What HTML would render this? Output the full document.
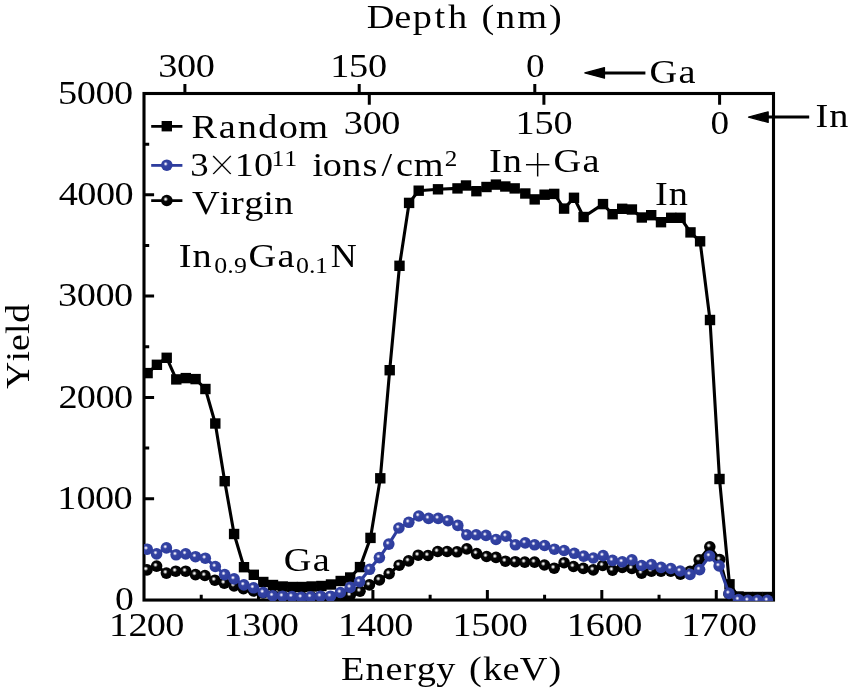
<!DOCTYPE html>
<html><head><meta charset="utf-8"><title>RBS spectra</title>
<style>
html,body{margin:0;padding:0;background:#fff;}
svg{display:block;}
text{font-family:"Liberation Serif", serif;fill:#000;}
</style></head><body>
<svg width="850" height="689" viewBox="0 0 850 689">
<defs>
<radialGradient id="gb" cx="0.40" cy="0.39" r="0.5" fx="0.40" fy="0.39">
<stop offset="0" stop-color="#ffffff"/><stop offset="0.08" stop-color="#f0effb"/><stop offset="0.22" stop-color="#9297d0"/><stop offset="0.37" stop-color="#3443a2"/><stop offset="1" stop-color="#2e3d9e"/>
</radialGradient>
<radialGradient id="gk" cx="0.40" cy="0.39" r="0.5" fx="0.40" fy="0.39">
<stop offset="0" stop-color="#ffffff"/><stop offset="0.10" stop-color="#ececec"/><stop offset="0.25" stop-color="#7c7c7c"/><stop offset="0.41" stop-color="#060606"/><stop offset="1" stop-color="#000000"/>
</radialGradient>
<clipPath id="cp"><rect x="144.0" y="93.5" width="629.7" height="507.4"/></clipPath>
</defs>
<rect width="850" height="689" fill="#fff"/>

<g stroke="#000" stroke-width="3.1" fill="none">
<rect x="144.0" y="93.5" width="629.5" height="506.54999999999995"/>
</g>
<path d="M201.23,600.05v-5.2 M258.45,600.05v-10.0 M315.68,600.05v-5.2 M372.91,600.05v-10.0 M430.14,600.05v-5.2 M487.36,600.05v-10.0 M544.59,600.05v-5.2 M601.82,600.05v-10.0 M659.05,600.05v-5.2 M716.27,600.05v-10.0 M773.50,600.05v-5.2 M144.0,549.39h5.2 M144.0,498.74h10.1 M144.0,448.08h5.2 M144.0,397.43h10.1 M144.0,346.77h5.2 M144.0,296.12h10.1 M144.0,245.46h5.2 M144.0,194.81h10.1 M144.0,144.15h5.2 M184.9,93.5v-9.6 M359.2,93.5v-9.6 M534.8,93.5v-9.6 M369.3,93.5v11.3 M543.9,93.5v11.3 M719.6,93.5v11.3" stroke="#000" stroke-width="3.0" fill="none"/>
<g clip-path="url(#cp)">
<polyline points="147.6,373.1 156.9,364.8 166.7,357.8 176.3,379.4 185.8,378.1 195.6,379.1 205.4,389.0 215.3,423.5 224.7,481.2 234.1,534.0 244.0,567.2 253.8,574.8 263.3,582.0 273.0,585.0 282.7,586.5 292.4,587.0 302.0,587.0 311.7,586.5 321.4,586.0 331.0,584.5 340.7,581.0 350.2,577.5 360.0,567.1 370.5,537.9 380.3,478.3 389.7,370.2 399.5,265.8 409.1,202.9 418.7,190.7 438.0,189.3 457.5,188.4 466.0,185.5 476.4,191.2 486.5,187.0 495.9,184.6 505.3,186.5 514.7,188.4 525.3,193.5 534.7,199.4 544.6,194.7 554.2,193.9 564.1,208.6 574.0,197.8 583.6,217.0 603.0,204.1 612.6,214.2 622.2,208.8 631.9,209.5 641.8,217.5 651.2,215.2 661.0,222.2 671.2,217.8 680.6,217.8 690.5,232.4 700.1,241.3 710.0,320.0 719.5,479.0 729.5,584.3 738.5,596.5 748.0,597.0 757.5,597.0 767.4,597.0" fill="none" stroke="#000" stroke-width="3.1" stroke-linejoin="round"/>
<rect x="142.4" y="367.9" width="10.4" height="10.4" fill="#000"/>
<rect x="151.7" y="359.6" width="10.4" height="10.4" fill="#000"/>
<rect x="161.5" y="352.6" width="10.4" height="10.4" fill="#000"/>
<rect x="171.1" y="374.2" width="10.4" height="10.4" fill="#000"/>
<rect x="180.6" y="372.9" width="10.4" height="10.4" fill="#000"/>
<rect x="190.4" y="373.9" width="10.4" height="10.4" fill="#000"/>
<rect x="200.2" y="383.8" width="10.4" height="10.4" fill="#000"/>
<rect x="210.1" y="418.3" width="10.4" height="10.4" fill="#000"/>
<rect x="219.5" y="476.0" width="10.4" height="10.4" fill="#000"/>
<rect x="228.9" y="528.8" width="10.4" height="10.4" fill="#000"/>
<rect x="238.8" y="562.0" width="10.4" height="10.4" fill="#000"/>
<rect x="248.6" y="569.6" width="10.4" height="10.4" fill="#000"/>
<rect x="258.1" y="576.8" width="10.4" height="10.4" fill="#000"/>
<rect x="267.8" y="579.8" width="10.4" height="10.4" fill="#000"/>
<rect x="277.5" y="581.3" width="10.4" height="10.4" fill="#000"/>
<rect x="287.2" y="581.8" width="10.4" height="10.4" fill="#000"/>
<rect x="296.8" y="581.8" width="10.4" height="10.4" fill="#000"/>
<rect x="306.5" y="581.3" width="10.4" height="10.4" fill="#000"/>
<rect x="316.2" y="580.8" width="10.4" height="10.4" fill="#000"/>
<rect x="325.8" y="579.3" width="10.4" height="10.4" fill="#000"/>
<rect x="335.5" y="575.8" width="10.4" height="10.4" fill="#000"/>
<rect x="345.0" y="572.3" width="10.4" height="10.4" fill="#000"/>
<rect x="354.8" y="561.9" width="10.4" height="10.4" fill="#000"/>
<rect x="365.3" y="532.7" width="10.4" height="10.4" fill="#000"/>
<rect x="375.1" y="473.1" width="10.4" height="10.4" fill="#000"/>
<rect x="384.5" y="365.0" width="10.4" height="10.4" fill="#000"/>
<rect x="394.3" y="260.6" width="10.4" height="10.4" fill="#000"/>
<rect x="403.9" y="197.7" width="10.4" height="10.4" fill="#000"/>
<rect x="413.5" y="185.5" width="10.4" height="10.4" fill="#000"/>
<rect x="432.8" y="184.1" width="10.4" height="10.4" fill="#000"/>
<rect x="452.3" y="183.2" width="10.4" height="10.4" fill="#000"/>
<rect x="460.8" y="180.3" width="10.4" height="10.4" fill="#000"/>
<rect x="471.2" y="186.0" width="10.4" height="10.4" fill="#000"/>
<rect x="481.3" y="181.8" width="10.4" height="10.4" fill="#000"/>
<rect x="490.7" y="179.4" width="10.4" height="10.4" fill="#000"/>
<rect x="500.1" y="181.3" width="10.4" height="10.4" fill="#000"/>
<rect x="509.5" y="183.2" width="10.4" height="10.4" fill="#000"/>
<rect x="520.1" y="188.3" width="10.4" height="10.4" fill="#000"/>
<rect x="529.5" y="194.2" width="10.4" height="10.4" fill="#000"/>
<rect x="539.4" y="189.5" width="10.4" height="10.4" fill="#000"/>
<rect x="549.0" y="188.7" width="10.4" height="10.4" fill="#000"/>
<rect x="558.9" y="203.4" width="10.4" height="10.4" fill="#000"/>
<rect x="568.8" y="192.6" width="10.4" height="10.4" fill="#000"/>
<rect x="578.4" y="211.8" width="10.4" height="10.4" fill="#000"/>
<rect x="597.8" y="198.9" width="10.4" height="10.4" fill="#000"/>
<rect x="607.4" y="209.0" width="10.4" height="10.4" fill="#000"/>
<rect x="617.0" y="203.6" width="10.4" height="10.4" fill="#000"/>
<rect x="626.7" y="204.3" width="10.4" height="10.4" fill="#000"/>
<rect x="636.6" y="212.3" width="10.4" height="10.4" fill="#000"/>
<rect x="646.0" y="210.0" width="10.4" height="10.4" fill="#000"/>
<rect x="655.8" y="217.0" width="10.4" height="10.4" fill="#000"/>
<rect x="666.0" y="212.6" width="10.4" height="10.4" fill="#000"/>
<rect x="675.4" y="212.6" width="10.4" height="10.4" fill="#000"/>
<rect x="685.3" y="227.2" width="10.4" height="10.4" fill="#000"/>
<rect x="694.9" y="236.1" width="10.4" height="10.4" fill="#000"/>
<rect x="704.8" y="314.8" width="10.4" height="10.4" fill="#000"/>
<rect x="714.3" y="473.8" width="10.4" height="10.4" fill="#000"/>
<rect x="724.3" y="579.1" width="10.4" height="10.4" fill="#000"/>
<rect x="733.3" y="591.3" width="10.4" height="10.4" fill="#000"/>
<rect x="742.8" y="591.8" width="10.4" height="10.4" fill="#000"/>
<rect x="752.3" y="591.8" width="10.4" height="10.4" fill="#000"/>
<rect x="762.2" y="591.8" width="10.4" height="10.4" fill="#000"/>
<polyline points="147.0,569.9 156.6,566.1 166.4,573.1 175.8,571.2 185.7,571.2 195.5,574.6 204.9,575.5 214.9,580.2 224.3,583.1 234.1,585.9 243.5,588.7 253.5,591.0 263.3,593.0 273.0,595.0 282.7,596.0 292.4,597.0 302.0,597.0 311.7,597.0 321.4,597.0 331.0,597.0 340.5,597.0 350.2,595.3 360.0,591.2 369.4,584.9 379.4,579.9 389.2,573.6 399.2,565.2 408.6,560.9 418.2,555.2 428.0,555.5 437.7,551.5 447.1,551.5 457.0,551.8 466.8,548.9 476.6,553.6 486.6,556.5 496.0,557.4 505.4,561.2 515.2,561.7 524.8,562.1 534.6,562.1 544.4,565.0 554.2,568.2 564.1,562.7 573.5,566.5 583.3,568.4 593.3,569.9 602.7,565.5 612.5,570.2 622.3,567.4 631.9,568.4 641.6,573.1 651.4,571.2 661.0,571.2 670.8,571.2 680.4,574.2 690.0,571.4 699.2,559.8 709.8,546.8 719.7,559.5 729.0,594.0 738.5,599.5 748.0,599.8 757.5,599.8 767.4,599.8" fill="none" stroke="#000" stroke-width="3.1" stroke-linejoin="round"/>
<circle cx="147.0" cy="569.9" r="5.8" fill="url(#gk)"/>
<circle cx="156.6" cy="566.1" r="5.8" fill="url(#gk)"/>
<circle cx="166.4" cy="573.1" r="5.8" fill="url(#gk)"/>
<circle cx="175.8" cy="571.2" r="5.8" fill="url(#gk)"/>
<circle cx="185.7" cy="571.2" r="5.8" fill="url(#gk)"/>
<circle cx="195.5" cy="574.6" r="5.8" fill="url(#gk)"/>
<circle cx="204.9" cy="575.5" r="5.8" fill="url(#gk)"/>
<circle cx="214.9" cy="580.2" r="5.8" fill="url(#gk)"/>
<circle cx="224.3" cy="583.1" r="5.8" fill="url(#gk)"/>
<circle cx="234.1" cy="585.9" r="5.8" fill="url(#gk)"/>
<circle cx="243.5" cy="588.7" r="5.8" fill="url(#gk)"/>
<circle cx="253.5" cy="591.0" r="5.8" fill="url(#gk)"/>
<circle cx="263.3" cy="593.0" r="5.8" fill="url(#gk)"/>
<circle cx="273.0" cy="595.0" r="5.8" fill="url(#gk)"/>
<circle cx="282.7" cy="596.0" r="5.8" fill="url(#gk)"/>
<circle cx="292.4" cy="597.0" r="5.8" fill="url(#gk)"/>
<circle cx="302.0" cy="597.0" r="5.8" fill="url(#gk)"/>
<circle cx="311.7" cy="597.0" r="5.8" fill="url(#gk)"/>
<circle cx="321.4" cy="597.0" r="5.8" fill="url(#gk)"/>
<circle cx="331.0" cy="597.0" r="5.8" fill="url(#gk)"/>
<circle cx="340.5" cy="597.0" r="5.8" fill="url(#gk)"/>
<circle cx="350.2" cy="595.3" r="5.8" fill="url(#gk)"/>
<circle cx="360.0" cy="591.2" r="5.8" fill="url(#gk)"/>
<circle cx="369.4" cy="584.9" r="5.8" fill="url(#gk)"/>
<circle cx="379.4" cy="579.9" r="5.8" fill="url(#gk)"/>
<circle cx="389.2" cy="573.6" r="5.8" fill="url(#gk)"/>
<circle cx="399.2" cy="565.2" r="5.8" fill="url(#gk)"/>
<circle cx="408.6" cy="560.9" r="5.8" fill="url(#gk)"/>
<circle cx="418.2" cy="555.2" r="5.8" fill="url(#gk)"/>
<circle cx="428.0" cy="555.5" r="5.8" fill="url(#gk)"/>
<circle cx="437.7" cy="551.5" r="5.8" fill="url(#gk)"/>
<circle cx="447.1" cy="551.5" r="5.8" fill="url(#gk)"/>
<circle cx="457.0" cy="551.8" r="5.8" fill="url(#gk)"/>
<circle cx="466.8" cy="548.9" r="5.8" fill="url(#gk)"/>
<circle cx="476.6" cy="553.6" r="5.8" fill="url(#gk)"/>
<circle cx="486.6" cy="556.5" r="5.8" fill="url(#gk)"/>
<circle cx="496.0" cy="557.4" r="5.8" fill="url(#gk)"/>
<circle cx="505.4" cy="561.2" r="5.8" fill="url(#gk)"/>
<circle cx="515.2" cy="561.7" r="5.8" fill="url(#gk)"/>
<circle cx="524.8" cy="562.1" r="5.8" fill="url(#gk)"/>
<circle cx="534.6" cy="562.1" r="5.8" fill="url(#gk)"/>
<circle cx="544.4" cy="565.0" r="5.8" fill="url(#gk)"/>
<circle cx="554.2" cy="568.2" r="5.8" fill="url(#gk)"/>
<circle cx="564.1" cy="562.7" r="5.8" fill="url(#gk)"/>
<circle cx="573.5" cy="566.5" r="5.8" fill="url(#gk)"/>
<circle cx="583.3" cy="568.4" r="5.8" fill="url(#gk)"/>
<circle cx="593.3" cy="569.9" r="5.8" fill="url(#gk)"/>
<circle cx="602.7" cy="565.5" r="5.8" fill="url(#gk)"/>
<circle cx="612.5" cy="570.2" r="5.8" fill="url(#gk)"/>
<circle cx="622.3" cy="567.4" r="5.8" fill="url(#gk)"/>
<circle cx="631.9" cy="568.4" r="5.8" fill="url(#gk)"/>
<circle cx="641.6" cy="573.1" r="5.8" fill="url(#gk)"/>
<circle cx="651.4" cy="571.2" r="5.8" fill="url(#gk)"/>
<circle cx="661.0" cy="571.2" r="5.8" fill="url(#gk)"/>
<circle cx="670.8" cy="571.2" r="5.8" fill="url(#gk)"/>
<circle cx="680.4" cy="574.2" r="5.8" fill="url(#gk)"/>
<circle cx="690.0" cy="571.4" r="5.8" fill="url(#gk)"/>
<circle cx="699.2" cy="559.8" r="5.8" fill="url(#gk)"/>
<circle cx="709.8" cy="546.8" r="5.8" fill="url(#gk)"/>
<circle cx="719.7" cy="559.5" r="5.8" fill="url(#gk)"/>
<circle cx="729.0" cy="594.0" r="5.8" fill="url(#gk)"/>
<circle cx="738.5" cy="599.5" r="5.8" fill="url(#gk)"/>
<circle cx="748.0" cy="599.8" r="5.8" fill="url(#gk)"/>
<circle cx="757.5" cy="599.8" r="5.8" fill="url(#gk)"/>
<circle cx="767.4" cy="599.8" r="5.8" fill="url(#gk)"/>
<polyline points="147.2,549.2 156.6,553.9 166.4,547.9 176.1,554.8 185.7,553.9 195.5,556.7 205.3,558.2 215.3,566.5 224.7,574.6 234.1,578.9 243.9,584.9 253.5,587.8 263.3,592.5 272.7,595.7 282.5,596.2 292.0,596.5 301.3,597.2 310.7,596.8 320.5,596.2 330.5,596.2 340.4,592.5 350.2,587.4 359.6,581.7 369.6,569.3 379.4,557.6 388.8,544.1 398.9,528.0 408.8,522.3 418.8,516.0 428.6,518.4 438.2,518.4 448.0,520.7 457.8,525.4 466.8,534.8 476.2,534.8 486.0,535.4 496.0,539.5 506.0,536.1 515.4,544.8 525.2,542.9 534.6,544.8 544.6,545.5 554.4,549.2 564.1,550.5 574.3,553.3 583.7,556.1 593.3,558.0 603.1,555.6 612.5,560.4 622.3,561.8 631.9,559.9 641.6,565.5 651.4,564.6 661.0,567.4 670.8,568.5 680.2,571.0 690.0,574.4 699.6,569.6 709.5,556.0 719.1,565.9 729.0,593.4 738.5,599.6 748.0,600.4 757.5,600.4 767.4,600.4" fill="none" stroke="#2e3d9e" stroke-width="3.1" stroke-linejoin="round"/>
<circle cx="147.2" cy="549.2" r="5.8" fill="url(#gb)"/>
<circle cx="156.6" cy="553.9" r="5.8" fill="url(#gb)"/>
<circle cx="166.4" cy="547.9" r="5.8" fill="url(#gb)"/>
<circle cx="176.1" cy="554.8" r="5.8" fill="url(#gb)"/>
<circle cx="185.7" cy="553.9" r="5.8" fill="url(#gb)"/>
<circle cx="195.5" cy="556.7" r="5.8" fill="url(#gb)"/>
<circle cx="205.3" cy="558.2" r="5.8" fill="url(#gb)"/>
<circle cx="215.3" cy="566.5" r="5.8" fill="url(#gb)"/>
<circle cx="224.7" cy="574.6" r="5.8" fill="url(#gb)"/>
<circle cx="234.1" cy="578.9" r="5.8" fill="url(#gb)"/>
<circle cx="243.9" cy="584.9" r="5.8" fill="url(#gb)"/>
<circle cx="253.5" cy="587.8" r="5.8" fill="url(#gb)"/>
<circle cx="263.3" cy="592.5" r="5.8" fill="url(#gb)"/>
<circle cx="272.7" cy="595.7" r="5.8" fill="url(#gb)"/>
<circle cx="282.5" cy="596.2" r="5.8" fill="url(#gb)"/>
<circle cx="292.0" cy="596.5" r="5.8" fill="url(#gb)"/>
<circle cx="301.3" cy="597.2" r="5.8" fill="url(#gb)"/>
<circle cx="310.7" cy="596.8" r="5.8" fill="url(#gb)"/>
<circle cx="320.5" cy="596.2" r="5.8" fill="url(#gb)"/>
<circle cx="330.5" cy="596.2" r="5.8" fill="url(#gb)"/>
<circle cx="340.4" cy="592.5" r="5.8" fill="url(#gb)"/>
<circle cx="350.2" cy="587.4" r="5.8" fill="url(#gb)"/>
<circle cx="359.6" cy="581.7" r="5.8" fill="url(#gb)"/>
<circle cx="369.6" cy="569.3" r="5.8" fill="url(#gb)"/>
<circle cx="379.4" cy="557.6" r="5.8" fill="url(#gb)"/>
<circle cx="388.8" cy="544.1" r="5.8" fill="url(#gb)"/>
<circle cx="398.9" cy="528.0" r="5.8" fill="url(#gb)"/>
<circle cx="408.8" cy="522.3" r="5.8" fill="url(#gb)"/>
<circle cx="418.8" cy="516.0" r="5.8" fill="url(#gb)"/>
<circle cx="428.6" cy="518.4" r="5.8" fill="url(#gb)"/>
<circle cx="438.2" cy="518.4" r="5.8" fill="url(#gb)"/>
<circle cx="448.0" cy="520.7" r="5.8" fill="url(#gb)"/>
<circle cx="457.8" cy="525.4" r="5.8" fill="url(#gb)"/>
<circle cx="466.8" cy="534.8" r="5.8" fill="url(#gb)"/>
<circle cx="476.2" cy="534.8" r="5.8" fill="url(#gb)"/>
<circle cx="486.0" cy="535.4" r="5.8" fill="url(#gb)"/>
<circle cx="496.0" cy="539.5" r="5.8" fill="url(#gb)"/>
<circle cx="506.0" cy="536.1" r="5.8" fill="url(#gb)"/>
<circle cx="515.4" cy="544.8" r="5.8" fill="url(#gb)"/>
<circle cx="525.2" cy="542.9" r="5.8" fill="url(#gb)"/>
<circle cx="534.6" cy="544.8" r="5.8" fill="url(#gb)"/>
<circle cx="544.6" cy="545.5" r="5.8" fill="url(#gb)"/>
<circle cx="554.4" cy="549.2" r="5.8" fill="url(#gb)"/>
<circle cx="564.1" cy="550.5" r="5.8" fill="url(#gb)"/>
<circle cx="574.3" cy="553.3" r="5.8" fill="url(#gb)"/>
<circle cx="583.7" cy="556.1" r="5.8" fill="url(#gb)"/>
<circle cx="593.3" cy="558.0" r="5.8" fill="url(#gb)"/>
<circle cx="603.1" cy="555.6" r="5.8" fill="url(#gb)"/>
<circle cx="612.5" cy="560.4" r="5.8" fill="url(#gb)"/>
<circle cx="622.3" cy="561.8" r="5.8" fill="url(#gb)"/>
<circle cx="631.9" cy="559.9" r="5.8" fill="url(#gb)"/>
<circle cx="641.6" cy="565.5" r="5.8" fill="url(#gb)"/>
<circle cx="651.4" cy="564.6" r="5.8" fill="url(#gb)"/>
<circle cx="661.0" cy="567.4" r="5.8" fill="url(#gb)"/>
<circle cx="670.8" cy="568.5" r="5.8" fill="url(#gb)"/>
<circle cx="680.2" cy="571.0" r="5.8" fill="url(#gb)"/>
<circle cx="690.0" cy="574.4" r="5.8" fill="url(#gb)"/>
<circle cx="699.6" cy="569.6" r="5.8" fill="url(#gb)"/>
<circle cx="709.5" cy="556.0" r="5.8" fill="url(#gb)"/>
<circle cx="719.1" cy="565.9" r="5.8" fill="url(#gb)"/>
<circle cx="729.0" cy="593.4" r="5.8" fill="url(#gb)"/>
<circle cx="738.5" cy="599.6" r="5.8" fill="url(#gb)"/>
<circle cx="748.0" cy="600.4" r="5.8" fill="url(#gb)"/>
<circle cx="757.5" cy="600.4" r="5.8" fill="url(#gb)"/>
<circle cx="767.4" cy="600.4" r="5.8" fill="url(#gb)"/>
</g>
<path d="M151.2,126.3H182.4 M151.2,200.6H182.4" stroke="#000" stroke-width="2.8"/>
<path d="M151.2,165.4H182.4" stroke="#2e3d9e" stroke-width="2.8"/>
<rect x="161.6" y="121.0" width="10.4" height="10.4" fill="#000"/>
<circle cx="166.8" cy="165.2" r="5.8" fill="url(#gb)"/>
<circle cx="166.8" cy="200.5" r="5.8" fill="url(#gk)"/>
<path d="M598.6,72.9H645.4" stroke="#000" stroke-width="3.0" fill="none"/><path d="M584.8000000000001,72.9L604.5,67.60000000000001L604.5,78.2Z" fill="#000" stroke="#000" stroke-width="1.2" stroke-linejoin="round"/>
<path d="M762.3,117.1H809.2" stroke="#000" stroke-width="3.0" fill="none"/><path d="M748.5,117.1L768.1999999999999,111.8L768.1999999999999,122.39999999999999Z" fill="#000" stroke="#000" stroke-width="1.2" stroke-linejoin="round"/>
<text transform="translate(0,28.00) scale(1.1400,1)" font-size="33.6" x="321.67 345.90 361.96 381.04 393.04 411.98 422.37 435.16 453.73 481.60" y="0">Depth (nm)</text>
<text transform="translate(0,680.10) scale(1.1400,1)" font-size="33.6" x="299.12 320.56 338.09 353.70 365.51 382.71 401.10 411.42 423.64 440.71 455.92 481.25" y="0">Energy (keV)</text>
<text transform="translate(0,76.60) scale(1.1400,1)" font-size="33.6" x="138.75 155.33 171.64" y="0">300</text>
<text transform="translate(0,76.60) scale(1.1400,1)" font-size="33.6" x="289.63 306.21 322.79" y="0">150</text>
<text transform="translate(0,76.60) scale(1.1088,1)" font-size="33.6" x="474.49" y="0">0</text>
<text transform="translate(0,82.80) scale(1.1400,1)" font-size="33.6" x="569.67 595.10" y="0">Ga</text>
<text transform="translate(0,133.80) scale(1.1400,1)" font-size="33.6" x="301.60 318.18 334.50" y="0">300</text>
<text transform="translate(0,133.80) scale(1.1400,1)" font-size="33.6" x="452.30 468.88 485.46" y="0">150</text>
<text transform="translate(0,133.80) scale(1.1088,1)" font-size="33.6" x="640.70" y="0">0</text>
<text transform="translate(0,127.30) scale(1.1400,1)" font-size="33.6" x="715.43 727.51" y="0">In</text>
<text transform="translate(0,138.00) scale(1.1400,1)" font-size="33.6" x="167.98 191.98 208.55 226.57 244.45 261.64" y="0">Random</text>
<text transform="translate(0,175.90) scale(1.0935,1)" font-size="33.6" x="174.10" y="0">3</text>
<text transform="translate(0,182.23) scale(0.9948,1)" font-size="49.8" x="209.17" y="0" stroke="#fff" stroke-width="1.1">×</text>
<text transform="translate(0,175.90) scale(1.1400,1)" font-size="33.6" x="205.86 222.70" y="0">10</text>
<text transform="translate(0,166.10) scale(1.1400,1)" font-size="22.7" x="238.24 249.26" y="0">11</text>
<text transform="translate(0,176.00) scale(1.1400,1)" font-size="33.6" x="274.04 283.19 300.33 318.09 334.66 347.33 362.87" y="0">ions/cm</text>
<text transform="translate(0,166.10) scale(1.1069,1)" font-size="22.7" x="401.87" y="0">2</text>
<text transform="translate(0,213.50) scale(1.1400,1)" font-size="33.6" x="168.51 192.67 202.58 214.29 230.95 240.66" y="0">Virgin</text>
<text transform="translate(0,267.30) scale(1.1400,1)" font-size="33.6" x="156.75 168.82" y="0">In</text>
<text transform="translate(0,273.20) scale(1.1400,1)" font-size="22.7" x="188.03 199.44 205.18" y="0">0.9</text>
<text transform="translate(0,267.30) scale(1.1400,1)" font-size="33.6" x="218.01 243.44" y="0">Ga</text>
<text transform="translate(0,273.20) scale(1.1400,1)" font-size="22.7" x="259.57 270.98 276.37" y="0">0.1</text>
<text transform="translate(0,267.30) scale(1.0693,1)" font-size="33.6" x="309.22" y="0">N</text>
<text transform="translate(0,171.60) scale(1.1400,1)" font-size="33.6" x="428.94 441.02" y="0">In</text>
<text transform="translate(0,181.64) scale(1.0135,1)" font-size="52.2" x="515.89" y="0" stroke="#fff" stroke-width="1.1">+</text>
<text transform="translate(0,171.60) scale(1.1400,1)" font-size="33.6" x="485.64 511.07" y="0">Ga</text>
<text transform="translate(0,204.90) scale(1.1400,1)" font-size="33.6" x="574.47 586.54" y="0">In</text>
<text transform="translate(0,570.60) scale(1.1400,1)" font-size="33.6" x="248.84 274.27" y="0">Ga</text>
<text transform="translate(0,610.25) scale(1.1224,1)" font-size="33.6" x="102.47" y="0">0</text>
<text transform="translate(0,508.94) scale(1.1400,1)" font-size="33.6" x="50.20 67.04 83.36 99.67" y="0">1000</text>
<text transform="translate(0,407.63) scale(1.1400,1)" font-size="33.6" x="51.38 67.43 83.75 100.07" y="0">2000</text>
<text transform="translate(0,306.32) scale(1.1400,1)" font-size="33.6" x="50.86 67.43 83.75 100.07" y="0">3000</text>
<text transform="translate(0,205.01) scale(1.1400,1)" font-size="33.6" x="51.51 67.83 84.14 100.46" y="0">4000</text>
<text transform="translate(0,103.70) scale(1.1400,1)" font-size="33.6" x="50.86 67.43 83.75 100.07" y="0">5000</text>
<text transform="translate(0,635.50) scale(1.1400,1)" font-size="33.6" x="95.59 112.70 128.75 145.07" y="0">1200</text>
<text transform="translate(0,635.50) scale(1.1400,1)" font-size="33.6" x="196.01 212.58 229.16 245.48" y="0">1300</text>
<text transform="translate(0,635.50) scale(1.1400,1)" font-size="33.6" x="296.42 313.26 329.58 345.89" y="0">1400</text>
<text transform="translate(0,635.50) scale(1.1400,1)" font-size="33.6" x="396.83 413.41 429.99 446.30" y="0">1500</text>
<text transform="translate(0,635.50) scale(1.1400,1)" font-size="33.6" x="497.24 513.82 530.40 546.72" y="0">1600</text>
<text transform="translate(0,635.50) scale(1.1400,1)" font-size="33.6" x="597.66 613.71 630.81 647.13" y="0">1700</text>
<text transform="translate(28.7,388.9) rotate(-90) scale(1.1200,1)" font-size="33.6" x="-0.00 24.54 33.90 49.05 59.00" y="0">Yield</text>
</svg></body></html>
